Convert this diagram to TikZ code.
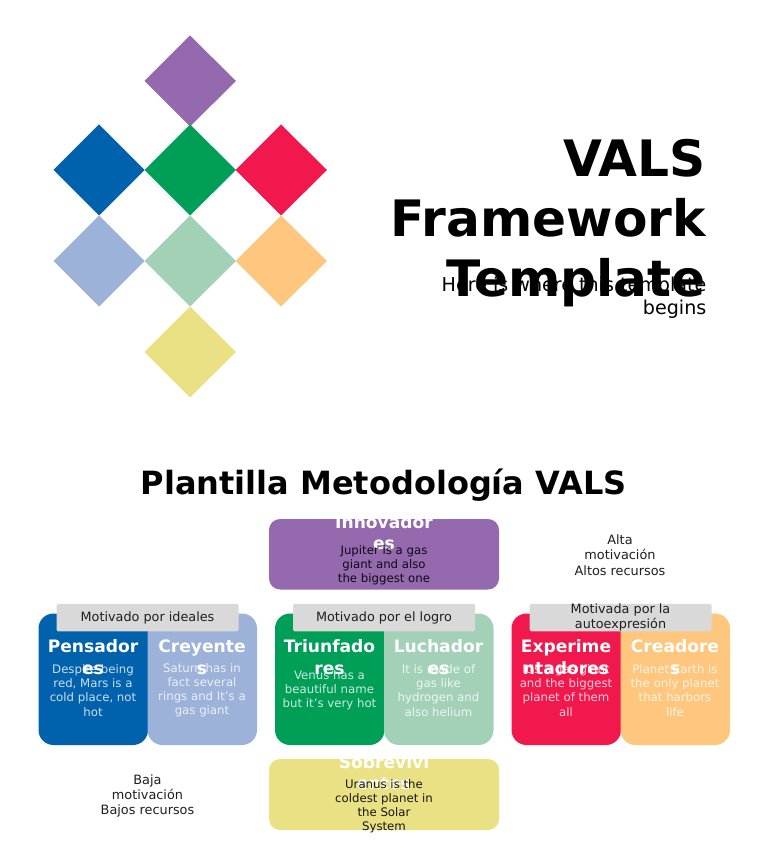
\documentclass[tikz,border=0pt]{standalone}
\usepackage{fontspec}
\setmainfont{DejaVu Sans}
\definecolor{cpurple}{HTML}{9469AE}
\definecolor{cblue}{HTML}{0061AC}
\definecolor{cgreen}{HTML}{009F58}
\definecolor{cred}{HTML}{F0184C}
\definecolor{cltblue}{HTML}{9DB2D9}
\definecolor{cltgreen}{HTML}{A2D1B7}
\definecolor{corange}{HTML}{FFC67E}
\definecolor{cyellow}{HTML}{E9E184}
\definecolor{cgrey}{HTML}{D9D9D9}
\tikzset{
  x=1pt,y=-1pt,
  gem/.style={fill=#1,draw=none},
  card/.style={fill=#1,draw=none,rounded corners=15pt},
  wide/.style={fill=#1,draw=none,rounded corners=11pt},
  tag/.style={fill=cgrey,draw=none,rounded corners=1.5pt,minimum width=182pt,minimum height=27.5pt,inner sep=0pt,
    align=center,text=black!88,font=\fontsize{12.8}{15}\selectfont},
  head/.style={inner sep=0pt,align=center,text=white,font=\bfseries\fontsize{17.1}{21.8}\selectfont},
  body/.style={inner sep=0pt,align=center,font=\fontsize{11.75}{14.1}\selectfont},
  light/.style={body,text=white,text opacity=0.8},
  dark/.style={body,text=black,text opacity=0.9},
  note/.style={inner sep=0pt,align=center,text=black!88,font=\fontsize{12.85}{15.4}\selectfont},
  bigtitle/.style={anchor=base east,inner sep=0pt,font=\bfseries\fontsize{50.2}{60}\selectfont},
  subline/.style={anchor=base east,inner sep=0pt,font=\fontsize{19.1}{22}\selectfont},
}
\begin{document}
\begin{tikzpicture}
\useasboundingbox (0,0) rectangle (768,866);
\fill[white] (0,0) rectangle (768,866);
% diamonds
\fill[gem=cpurple]  (190,35.5) -- (236,81) -- (190,126.5) -- (144.5,81) -- cycle;
\fill[gem=cblue]    (99,124.5) -- (144.5,170) -- (99,215.5) -- (53.5,170) -- cycle;
\fill[gem=cgreen]   (190,124.5) -- (236,170) -- (190,215.5) -- (144.5,170) -- cycle;
\fill[gem=cred]     (281,124.5) -- (327,170) -- (281,215.5) -- (235.5,170) -- cycle;
\fill[gem=cltblue]  (99,215.5) -- (144.5,261) -- (99,306.5) -- (53.5,261) -- cycle;
\fill[gem=cltgreen] (190,215.5) -- (236,261) -- (190,306.5) -- (144.5,261) -- cycle;
\fill[gem=corange]  (281,215.5) -- (327,261) -- (281,306.5) -- (235.5,261) -- cycle;
\fill[gem=cyellow]  (190,306.5) -- (236,352) -- (190,397.5) -- (144.5,352) -- cycle;
% titles
\node[bigtitle] (title) at (706,177) {VALS};
\node[bigtitle] (title2) at (706,236.5) {Framework};
\node[bigtitle] (title3) at (706,296.5) {Template};
\node[subline] (sub1) at (706.5,291.7) {Here is where this template};
\node[subline] (sub2) at (706.5,314.5) {begins};
\node[inner sep=0pt,anchor=base,font=\bfseries\fontsize{32}{38}\selectfont] (main) at (383.5,494) {Plantilla Metodología VALS};
% wide cards
\fill[wide=cpurple] (269,519) rectangle (499,589.5);
\fill[wide=cyellow] (269,759) rectangle (499,830);
% cards
\fill[card=cblue]    (38.5,613.5) rectangle (148,745);
\fill[card=cltblue]  (147.5,613.5) rectangle (257,745);
\fill[card=cgreen]   (275,613.5) rectangle (384.5,745);
\fill[card=cltgreen] (384,613.5) rectangle (493.5,745);
\fill[card=cred]     (511.5,613.5) rectangle (621,745);
\fill[card=corange]  (620.5,613.5) rectangle (730,745);
% tags
\node[tag] (t1) at (147.5,617.5) {\raisebox{-1pt}{Motivado por ideales}};
\node[tag] (t2) at (384,617.5) {\raisebox{-1pt}{Motivado por el logro}};
\node[tag] (t3) at (620.5,617.5) {Motivada por la\\autoexpresión};
% card text
\node[light] (b1) at (93,690.5) {Despite being\\red, Mars is a\\cold place, not\\hot};
\node[light] (b2) at (202,690.5) {Saturn has in\\fact several\\rings and It’s a\\gas giant};
\node[light] (b3) at (329.5,690.5) {Venus has a\\beautiful name\\but it’s very hot};
\node[light] (b4) at (438.5,690.5) {It is made of\\gas like\\hydrogen and\\also helium};
\node[light] (b5) at (566,690.5) {It’s a gas giant\\and the biggest\\planet of them\\all};
\node[light] (b6) at (675,690.5) {Planet Earth is\\the only planet\\that harbors\\life};
\node[head,anchor=base] (h1) at (93,674.5) {Pensador\\es};
\node[head,anchor=base] (h2) at (202,674.5) {Creyente\\s};
\node[head,anchor=base] (h3) at (329.5,674.5) {Triunfado\\res};
\node[head,anchor=base] (h4) at (438.5,674.5) {Luchador\\es};
\node[head,anchor=base] (h5) at (566,674.5) {Experime\\ntadores};
\node[head,anchor=base] (h6) at (675,674.5) {Creadore\\s};
% wide text
\node[head,anchor=base] (h7) at (384,549.8) {Innovador\\es};
\node[head,anchor=base] (h8) at (384,789.8) {Sobrevivi\\entes};
\node[dark] (b7) at (384,565.5) {Jupiter is a gas\\giant and also\\the biggest one};
\node[dark] (b8) at (384,806) {Uranus is the\\coldest planet in\\the Solar\\System};
% notes
\node[note] (n1) at (620,555) {Alta\\motivación\\Altos recursos};
\node[note] (n2) at (147.5,796) {Baja\\motivación\\Bajos recursos};
\end{tikzpicture}
\end{document}
